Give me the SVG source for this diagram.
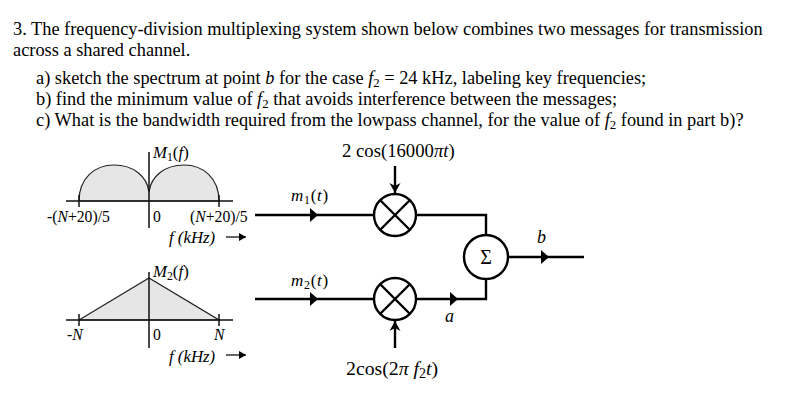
<svg xmlns="http://www.w3.org/2000/svg" width="811" height="406" viewBox="0 0 811 406">
<defs>
<marker id="tip" markerWidth="8" markerHeight="10" refX="7" refY="4" orient="auto" markerUnits="userSpaceOnUse"><path d="M0,0L7,4L0,8Z" fill="#000"/></marker>
<marker id="open" markerWidth="14" markerHeight="14" refX="11" refY="6" orient="auto" markerUnits="userSpaceOnUse"><path d="M1,0.5L11,6L1,11.5L4,6Z" fill="#000"/></marker>
</defs>
<style>
text{font-family:"Liberation Serif","Times New Roman",serif;fill:#000}
.q{font-size:18.35px}
.l{font-size:15.7px}
.m{font-size:16.8px}
.i{font-style:italic}
.s{font-size:70%}
.w{stroke:#000;stroke-width:2.4;fill:none}
.a{stroke:#111;stroke-width:1.5;fill:none}
.sh{fill:#e6e6e6;stroke:#222;stroke-width:1.2}
.c{fill:#fff;stroke:#000;stroke-width:2.4}
</style>
<rect width="811" height="406" fill="#fff"/>
<g id="question">
<text class="q" x="13" y="35">3. The frequency-division multiplexing system shown below combines two messages for transmission</text>
<text class="q" x="13" y="56">across a shared channel.</text>
<text class="q" x="36" y="84">a) sketch the spectrum at point <tspan class="i">b</tspan> for the case <tspan class="i">f</tspan><tspan class="s" dy="3">2</tspan><tspan dy="-3"> = 24 kHz, labeling key frequencies;</tspan></text>
<text class="q" x="36" y="105">b) find the minimum value of <tspan class="i">f</tspan><tspan class="s" dy="3">2</tspan><tspan dy="-3"> that avoids interference between the messages;</tspan></text>
<text class="q" x="36" y="126">c) What is the bandwidth required from the lowpass channel, for the value of <tspan class="i">f</tspan><tspan class="s" dy="3">2</tspan><tspan dy="-3"> found in part b)?</tspan></text>
</g>
<g id="spectrum-m1">
<path class="sh" d="M79,201C79,178 95,165 114,165C133,165 147,176 149,192C151,176 165,165 184,165C203,165 219,178 219,201Z"/>
<path class="a" d="M66,201H233M149,152V228M79,195V207M219,195V207"/>
<text class="m" x="153" y="158"><tspan class="i">M</tspan><tspan class="s" dy="3">1</tspan><tspan dy="-3">(</tspan><tspan class="i">f</tspan>)</text>
<text class="l" x="47" y="222">-(<tspan class="i">N</tspan>+20)/5</text>
<text class="l" x="153" y="222">0</text>
<text class="l" x="190" y="222">(<tspan class="i">N</tspan>+20)/5</text>
<text class="m i" x="169" y="243">f (kHz)</text>
<path d="M226,237H246" stroke="#111" stroke-width="1.3" marker-end="url(#tip)"/>
</g>
<g id="spectrum-m2">
<path class="sh" d="M79,320L149,278L219,320Z"/>
<path class="a" d="M66,320H233M149,272V348M79,314V326M219,314V326"/>
<text class="m" x="153" y="277"><tspan class="i">M</tspan><tspan class="s" dy="3">2</tspan><tspan dy="-3">(</tspan><tspan class="i">f</tspan>)</text>
<text class="l" x="67" y="340">-<tspan class="i">N</tspan></text>
<text class="l" x="153" y="340">0</text>
<text class="l i" x="214" y="340">N</text>
<text class="m i" x="169" y="362">f (kHz)</text>
<path d="M226,355H246" stroke="#111" stroke-width="1.3" marker-end="url(#tip)"/>
</g>
<g id="connectors">
<path class="w" d="M255,215H374" />
<path class="w" d="M255,299H374" />
<path class="w" d="M416,215H486V235" />
<path class="w" d="M416,299H486V279" />
<path class="w" d="M508,257H584" />
<path class="w" d="M395,166V193" marker-end="url(#open)"/>
<path class="w" d="M395,348V321" marker-end="url(#open)"/>
<path d="M310,208L318,215L310,222Z"/>
<path d="M310,292L318,299L310,306Z"/>
<path d="M450,292L458,299L450,306Z"/>
<path d="M541,250L549,257L541,264Z"/>
</g>
<g id="mixer-1">
<circle class="c" cx="395" cy="215" r="21"/>
<path class="w" d="M380,200L410,230M410,200L380,230"/>
</g>
<g id="mixer-2">
<circle class="c" cx="395" cy="299" r="21"/>
<path class="w" d="M380,284L410,314M410,284L380,314"/>
</g>
<g id="summer">
<circle class="c" cx="486" cy="257" r="22"/>
<text x="486" y="264" font-size="20" text-anchor="middle">Σ</text>
</g>
<g id="labels">
<text x="342" y="157" font-size="18.7">2 cos(16000<tspan class="i">πt</tspan>)</text>
<text class="i" font-size="17" x="291" y="201" letter-spacing="0.7">m<tspan class="s" dy="3" font-style="normal">1</tspan><tspan dy="-3" font-style="normal">(</tspan>t<tspan font-style="normal">)</tspan></text>
<text class="i" font-size="17" x="291" y="286" letter-spacing="0.7">m<tspan class="s" dy="3" font-style="normal">2</tspan><tspan dy="-3" font-style="normal">(</tspan>t<tspan font-style="normal">)</tspan></text>
<text class="i" font-size="18" x="537" y="243">b</text>
<text class="i" font-size="18" x="445" y="322">a</text>
<text x="346" y="375" font-size="19.8">2cos(2<tspan class="i">π f</tspan><tspan class="s" dy="3">2</tspan><tspan class="i" dy="-3">t</tspan>)</text>
</g>
</svg>
